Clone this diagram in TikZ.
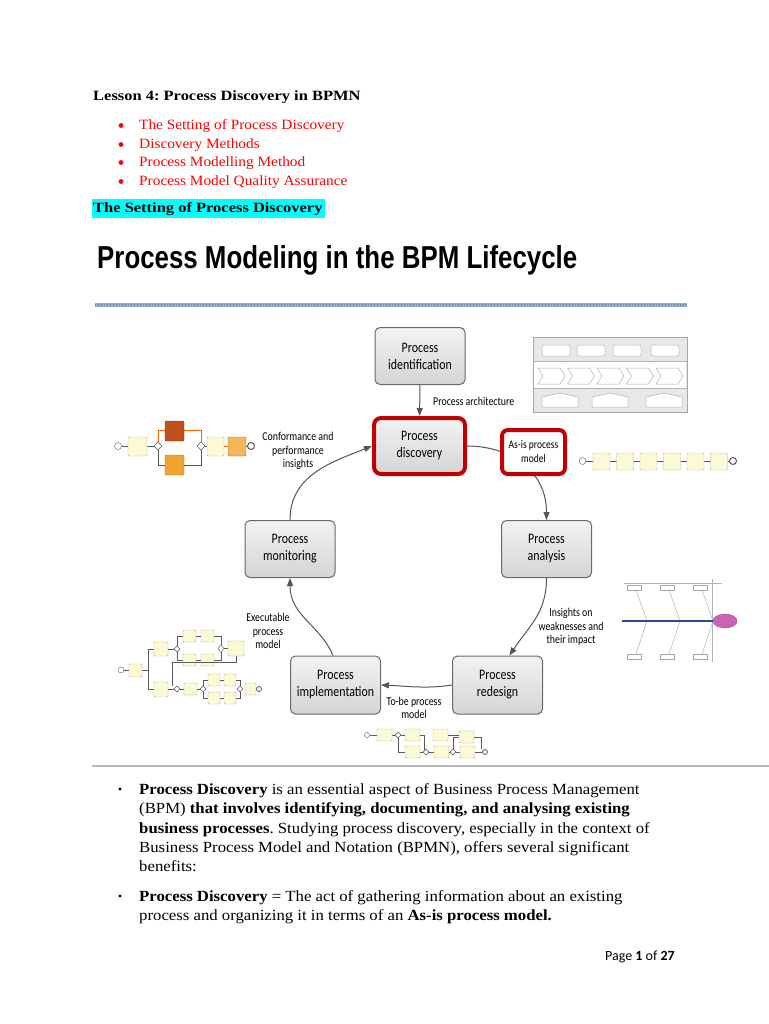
\documentclass[tikz,border=0pt]{standalone}
\usepackage{fontspec}
\setmainfont{Liberation Serif}[FakeStretch=1.08, BoldFeatures={FakeStretch=1.16}]
\newfontfamily\bodyserif{Liberation Serif}[FakeStretch=1.08, BoldFeatures={FakeStretch=1.08}]
\newfontfamily\calfont{Carlito}
\newfontfamily\calcond{Carlito}[FakeStretch=0.82]
\newfontfamily\helfont{Liberation Sans}
\usetikzlibrary{arrows.meta,shapes.geometric,calc}
\pgfdeclarelayer{bg}
\pgfsetlayers{bg,main}
\definecolor{redtxt}{RGB}{255,0,0}
\definecolor{boxred}{RGB}{192,0,0}
\definecolor{cyanhl}{RGB}{0,255,255}
\definecolor{edgecol}{RGB}{85,85,85}
\definecolor{boxborder}{RGB}{105,105,105}
\definecolor{boxtop}{RGB}{243,243,243}
\definecolor{boxbot}{RGB}{212,212,212}
\definecolor{dotblue}{RGB}{150,172,205}
\definecolor{dotdark}{RGB}{110,135,180}
\definecolor{taskfill}{RGB}{252,249,214}
\definecolor{taskline}{RGB}{185,180,120}
\definecolor{darkor}{RGB}{190,80,30}
\definecolor{midor}{RGB}{240,165,50}
\definecolor{fishblue}{RGB}{50,70,150}
\definecolor{fishpink}{RGB}{200,100,180}
\newcommand\listfont{\fontsize{14.2}{19.5}\selectfont\frenchspacing}
\newcommand\bodyfont{\bodyserif\fontsize{15.5}{19.5}\selectfont\frenchspacing}
\newcommand\bxfont{\calcond\fontsize{14.5}{17}\selectfont}
\newcommand\lblfont{\calcond\fontsize{12}{13.6}\selectfont}
\newcommand\asisfont{\calcond\fontsize{11.6}{14}\selectfont}
\tikzset{
  stagebox/.style={draw=boxborder, line width=1pt, rounded corners=5pt,
    top color=boxtop, bottom color=boxbot, minimum width=90pt,
    minimum height=57pt, align=center, font=\bxfont, inner sep=2pt},
  redbox/.style={stagebox, draw=boxred, line width=4pt, rounded corners=7pt,
    minimum width=91pt, minimum height=56pt},
  asisbox/.style={draw=boxred, line width=4pt, rounded corners=6pt, fill=white,
    minimum width=63pt, minimum height=44pt, align=center, font=\asisfont, inner sep=1pt},
  lbl/.style={font=\lblfont, align=center, inner sep=0pt},
  flow/.style={draw=edgecol, line width=1pt, -{Triangle[length=8pt,width=6pt]}},
  txt/.style={anchor=base west, inner sep=0pt, font=\bodyfont},
  ltxt/.style={anchor=base west, inner sep=0pt, font=\listfont},
  tk/.style={draw=taskline, fill=taskfill, line width=0.4pt, rounded corners=1pt},
  fl/.style={draw=gray!70!black, line width=0.4pt},
  gw/.style={draw=gray!70!black, fill=white, line width=0.4pt},
}
\begin{document}
\begin{tikzpicture}[x=1pt, y=-1pt]
\useasboundingbox (0,0) rectangle (768,1024);
\begin{pgfonlayer}{bg}
\fill[white] (0,0) rectangle (768,1024);
\end{pgfonlayer}

% ---------- header text ----------
\node[ltxt] (lesson) at (93,101) {\bfseries Lesson 4: Process Discovery in BPMN};
\foreach \yy/\tt [count=\i] in {130/The Setting of Process Discovery, 149/Discovery Methods, 167/Process Modelling Method, 186/Process Model Quality Assurance}{
  \fill[redtxt] (121,\yy-4.5) circle (2.4);
  \node[ltxt, text=redtxt] (item\i) at (139,\yy) {\tt};
}
\fill[cyanhl] (92,199) rectangle (325,218);
\node[ltxt] (sect) at (93,213) {\bfseries The Setting of Process Discovery};

% ---------- figure title ----------
\node[anchor=base west, inner sep=0pt] (title) at (97,268)
  {\resizebox{480pt}{23pt}{\helfont\bfseries Process Modeling in the BPM Lifecycle}};
\draw[dotblue, line width=4pt] (95,305) -- (687,305);
\draw[dotdark, line width=1.5pt, dash pattern=on 1pt off 2pt] (95,305) -- (687,305);

% ---------- stages ----------
\node[stagebox] (ident) at (420,356) {Process\\identification};
\node[redbox] (disc) at (419.5,446) {Process\\discovery};
\node[asisbox] (asis) at (533.5,452) {As-is process\\model};
\node[stagebox] (ana) at (546.5,549) {Process\\analysis};
\node[stagebox, minimum height=58pt] (redes) at (497.5,685) {Process\\redesign};
\node[stagebox, minimum height=58pt] (impl) at (335.5,685) {Process\\implementation};
\node[stagebox] (mon) at (290,549) {Process\\monitoring};

\begin{pgfonlayer}{bg}
\draw[flow] (ident) -- (disc);
\draw[flow] (disc.east) .. controls +(42,0) and +(0,-50) .. (ana.north);
\draw[flow] (ana.south) .. controls +(0,35) and +(20,-30) .. (redes.68);
\draw[flow] (redes.west) .. controls +(-25,4) and +(25,1) .. (impl.east);
\draw[flow] (impl.95) .. controls +(-12,-30) and +(0,38) .. (mon.south);
\draw[flow] (mon.north) .. controls +(0,-45) and +(-40,16) .. (disc.west);
\end{pgfonlayer}

\node[lbl, anchor=west] (archlbl) at (433,401) {Process architecture};
\node[lbl] (conf) at (298,451) {Conformance and\\performance\\insights};
\node[lbl] (ins) at (571,627) {Insights on\\weaknesses and\\their impact};
\node[lbl] (exe) at (268,631) {Executable\\process\\model};
\node[lbl] (tobe) at (414,708) {To-be process\\model};

% ---------- thumbnail: process architecture ----------
\draw[gray!70, fill=gray!18, line width=0.6pt] (533,337) rectangle (687,412);
\fill[white] (534,361) rectangle (686,388);
\draw[gray!60, line width=0.5pt] (533,361) -- (687,361) (533,388) -- (687,388);
\foreach \cx in {556,591,627,665}
  \draw[gray!60, fill=white, rounded corners=2pt, line width=0.5pt] (\cx-14,345) rectangle (\cx+14,356);
\foreach \i in {0,...,4}
  \draw[gray!60, fill=white, line width=0.5pt] ({538+\i*29.5},368) -- ++(22,0) -- ++(5,8) -- ++(-5,8) -- ++(-22,0) -- ++(5,-8) -- cycle;
\foreach \cx in {560,610,664}
  \draw[gray!60, fill=white, line width=0.5pt] (\cx-18,407) -- (\cx-18,397) -- (\cx,393) -- (\cx+18,397) -- (\cx+18,407) -- cycle;

% ---------- thumbnail: left BPMN ----------
\draw[fl] (121.5,446) -- (128,446) (147,446) -- (154,446);
\draw[gw] (118,446) circle (3.5);
\draw[tk] (128,437) rectangle (147,456);
\draw[gw] (158,442) -- (162,446) -- (158,450) -- (154,446) -- cycle;
\draw[fl, draw=orange!80!red] (158,442) |- (165,430);
\draw[fl] (158,450) |- (165,465);
\draw[draw=darkor!70!black, fill=darkor, line width=0.4pt, rounded corners=1pt] (165,421) rectangle (184,441);
\draw[draw=midor!70!black, fill=midor, line width=0.4pt, rounded corners=1pt] (165,455) rectangle (184,475);
\draw[fl, draw=orange!80!red] (184,430) -| (201,442);
\draw[fl] (184,465) -| (201,450);
\draw[gw] (201,442) -- (205,446) -- (201,450) -- (197,446) -- cycle;
\draw[fl] (205,446) -- (207,446);
\draw[tk] (207,437) rectangle (224,456);
\draw[fl, draw=orange!80!red] (224,446) -- (228,446);
\draw[draw=midor!70!black, fill=midor!80, line width=0.4pt, rounded corners=1pt] (228,437) rectangle (246,456);
\draw[fl] (246,446) -- (247.5,446);
\draw[gw, line width=1pt] (251,446) circle (3.5);

% ---------- thumbnail: right linear model ----------
\draw[fl] (586,461) -- (729.5,461);
\draw[gw] (582.5,461) circle (3.5);
\foreach \i in {0,...,5}
  \draw[tk] ({593+\i*23.5},453) rectangle ++(17,17);
\draw[gw, line width=1pt] (733,461) circle (3.5);

% ---------- thumbnail: fishbone ----------
\draw[gray!60, line width=0.5pt] (624,583) -- (722,583) (712,579) -- (712,662);
\foreach \cx in {634,667,700}{
  \draw[gray!60, line width=0.5pt] (\cx+2,590) -- (\cx+13,621) (\cx+2,654) -- (\cx+13,621);
  \draw[gray!70, fill=white, line width=0.4pt] (\cx-7,585) rectangle (\cx+7,590);
  \draw[gray!70, fill=white, line width=0.4pt] (\cx-7,654) rectangle (\cx+7,659);
}
\draw[fishblue, line width=2.5pt] (622,621) -- (713,621);
\draw[fishpink!80!black, fill=fishpink, line width=0.4pt] (725,621) ellipse (12 and 7);

% ---------- thumbnail: bottom-left BPMN ----------
\draw[fl] (124,670) -- (129,670) (142,670) -- (148,670);
\draw[gw] (121,670) circle (3);
\draw[tk] (129,664) rectangle (142,677);
\draw[fl] (148,670) |- (154,649) (148,670) |- (154,689);
\draw[tk] (154,642) rectangle (168,656);
\draw[tk] (154,682) rectangle (168,697);
\draw[fl] (168,649) -- (175,649);
\draw[gw] (177,646) -- (180,649) -- (177,652) -- (174,649) -- cycle;
\draw[fl] (177,646) |- (183,636) (177,652) |- (183,660);
\draw[tk] (183,630) rectangle (196,642);
\draw[tk] (201,630) rectangle (214,642);
\draw[tk] (183,654) rectangle (196,666);
\draw[tk] (201,654) rectangle (214,666);
\draw[fl] (196,636) -- (201,636) (196,660) -- (201,660);
\draw[fl] (214,636) -| (221,645) (214,660) -| (221,652);
\draw[gw] (221,645) -- (224,648.5) -- (221,652) -- (218,648.5) -- cycle;
\draw[fl] (224,648.5) -- (228,648.5);
\draw[tk] (228,641) rectangle (244,656);
\draw[fl] (236,656) |- (172,662) -- (172,686);
\draw[fl] (168,689) -- (175,689);
\draw[gw] (177,686) -- (180,689) -- (177,692) -- (174,689) -- cycle;
\draw[fl] (180,689) -- (184,689);
\draw[tk] (184,683) rectangle (197,695);
\draw[fl] (197,689) -- (201,689);
\draw[gw] (203,686) -- (206,689) -- (203,692) -- (200,689) -- cycle;
\draw[fl] (203,686) |- (208,680) (203,692) |- (208,698);
\draw[tk] (208,674) rectangle (220,686);
\draw[tk] (224,674) rectangle (236,686);
\draw[tk] (208,692) rectangle (220,704);
\draw[tk] (224,692) rectangle (236,704);
\draw[fl] (220,680) -- (224,680) (220,698) -- (224,698);
\draw[fl] (236,680) -| (240,686) (236,698) -| (240,692);
\draw[gw] (240,686) -- (243,689) -- (240,692) -- (237,689) -- cycle;
\draw[tk] (245,683) rectangle (256,695);
\draw[gw, line width=0.8pt] (259,689) circle (2.5);

% ---------- thumbnail: bottom model ----------
\draw[fl] (370,735) -- (377,735) (392,735) -- (405,735);
\draw[gw] (367,735) circle (2.5);
\draw[tk] (377,729) rectangle (392,741);
\draw[gw] (398,732) -- (401,735) -- (398,738) -- (395,735) -- cycle;
\draw[tk] (405,729) rectangle (420,741);
\draw[fl] (420,735) -| (424,752) (398,738) |- (405,752);
\draw[tk] (405,746) rectangle (420,758);
\draw[fl] (420,752) -- (434,752);
\draw[gw] (426,749) -- (429,752) -- (426,755) -- (423,752) -- cycle;
\draw[tk] (434,746) rectangle (449,758);
\draw[fl] (449,752) -- (456,752);
\draw[gw] (453,749) -- (456,752) -- (453,755) -- (450,752) -- cycle;
\draw[fl] (453,749) |- (459,737);
\draw[tk] (459,731) rectangle (474,743);
\draw[fl] (456,752) -- (460,752);
\draw[tk] (460,746) rectangle (475,758);
\draw[fl] (474,737) -| (481,749);
\draw[tk] (433,729) rectangle (448,741);
\draw[fl] (448,735) -- (459,735);
\draw[fl] (475,752) -- (482,752);
\draw[gw, line width=0.8pt] (485,752) circle (2.5);

% ---------- separator ----------
\draw[gray!55, line width=1.2pt] (92,766) -- (778,766);

% ---------- body text ----------
\fill[black] (120,789) circle (1.7);
\node[txt] (p1) at (139,794) {\textbf{Process Discovery} is an essential aspect of Business Process Management};
\node[txt] (p2) at (139,813) {(BPM) \textbf{that involves identifying, documenting, and analysing existing}};
\node[txt] (p3) at (139,833) {\textbf{business processes}. Studying process discovery, especially in the context of};
\node[txt] (p4) at (139,852) {Business Process Model and Notation (BPMN), offers several significant};
\node[txt] (p5) at (139,871) {benefits:};
\fill[black] (120,896) circle (1.7);
\node[txt] (q1) at (139,901) {\textbf{Process Discovery} = The act of gathering information about an existing};
\node[txt] (q2) at (139,920) {process and organizing it in terms of an \textbf{As-is process model.}};

\node[anchor=base west, inner sep=0pt, font=\calfont\fontsize{14}{14}\selectfont] (foot) at (605,960) {Page \textbf{1} of \textbf{27}};
\end{tikzpicture}
\end{document}
